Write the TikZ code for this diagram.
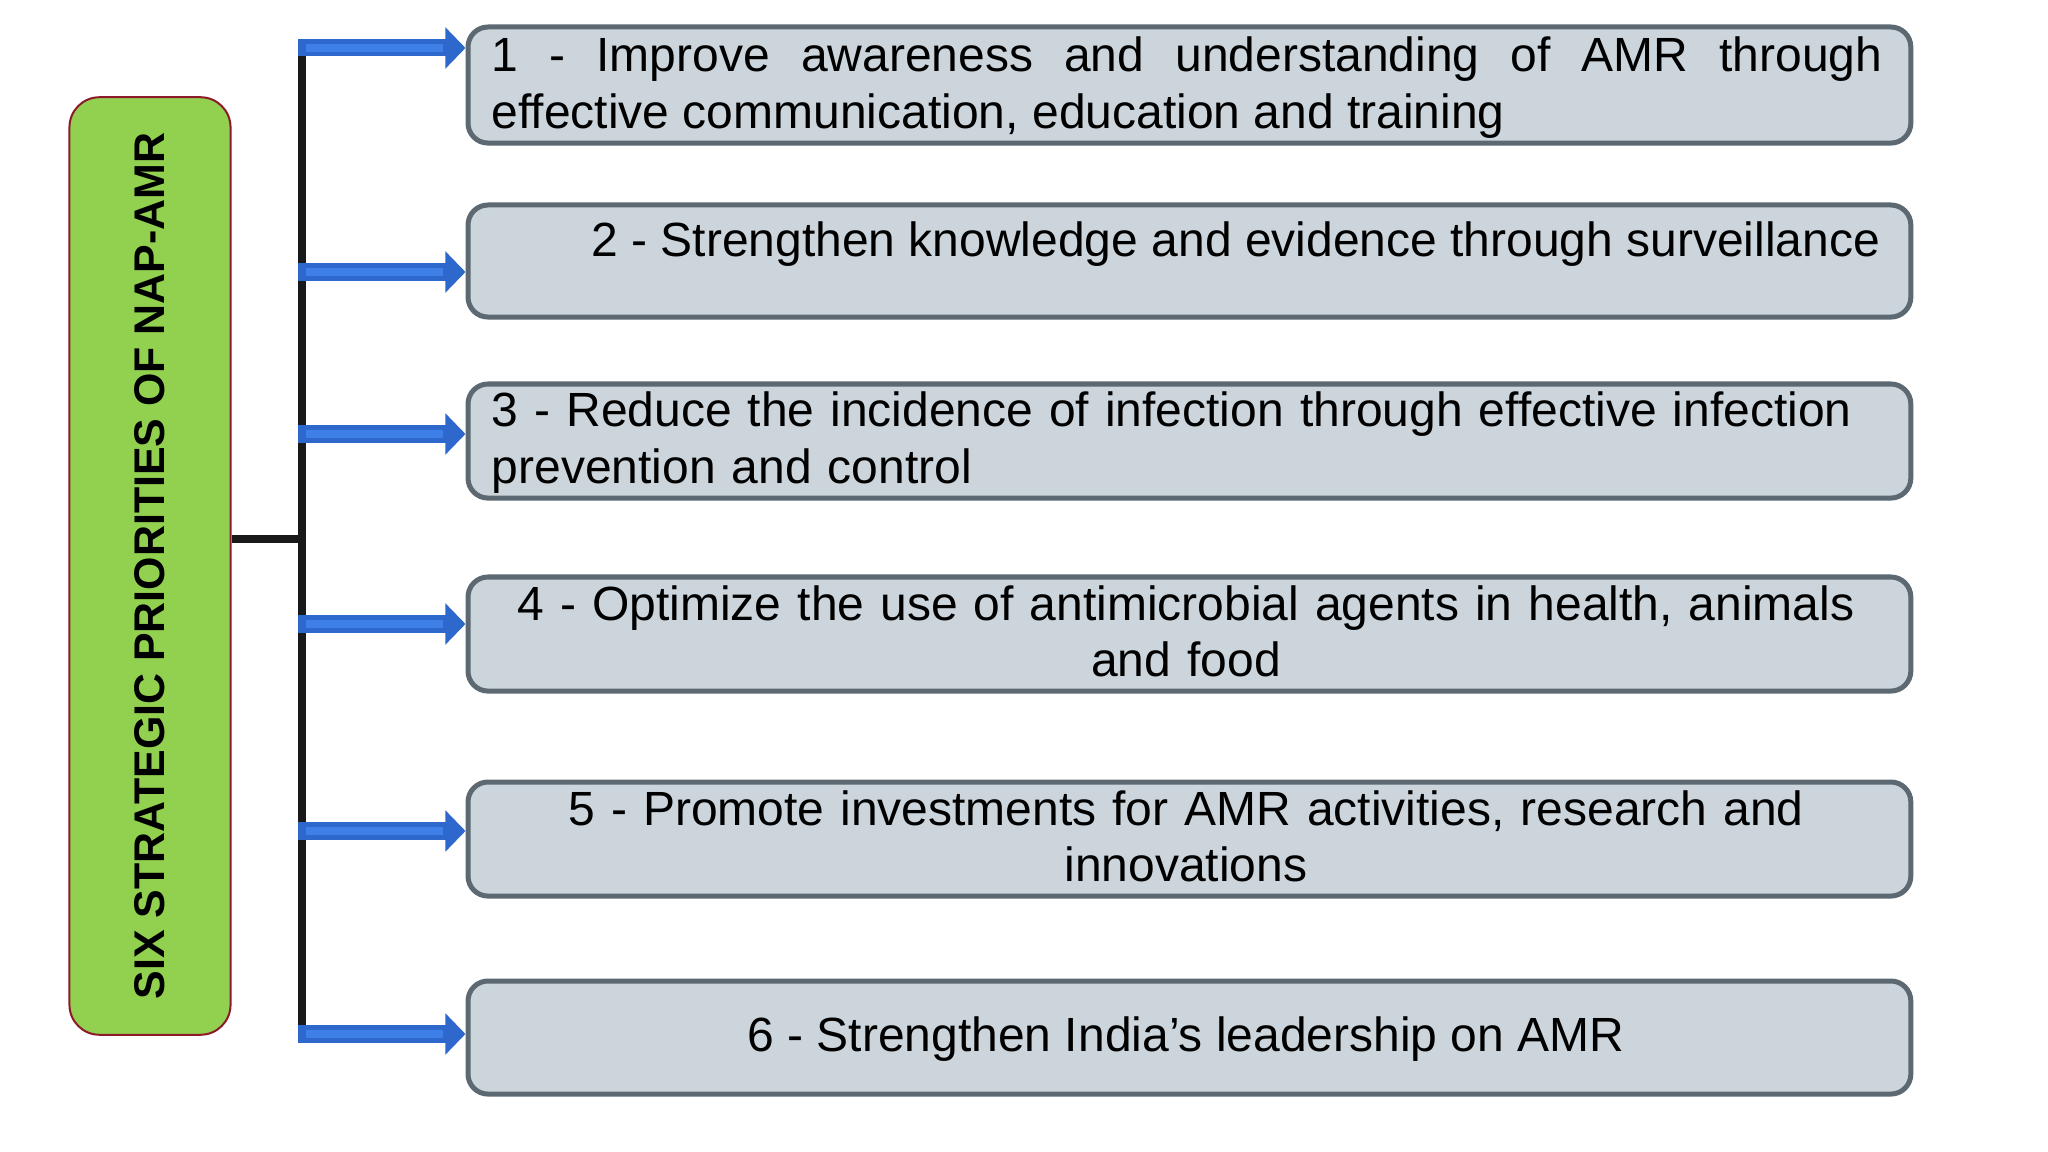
\documentclass[tikz,border=0pt]{standalone}
\usepackage{fontspec}
\setmainfont{Liberation Sans}
\usetikzlibrary{arrows.meta}
\definecolor{boxfill}{RGB}{203,213,219}
\definecolor{boxline}{RGB}{92,105,114}
\definecolor{greenfill}{RGB}{146,208,80}
\definecolor{greenline}{RGB}{140,26,43}
\definecolor{arrowblue}{RGB}{46,104,205}
\definecolor{arrowlight}{RGB}{62,128,232}
\tikzset{
  prio/.style={draw=boxline, fill=boxfill, line width=0.05cm, rounded corners=0.2cm,
    minimum width=14.42cm, inner sep=0pt, anchor=north west},
  prtext/.style={font=\fontsize{13.65pt}{16pt}\selectfont, inner sep=0pt, text=black},
  bus/.style={line width=0.08cm, black!90},
  feed/.style={line width=0.17cm, arrowblue, -{Triangle[length=0.2cm, width=0.4cm]}},
  feedin/.style={line width=0.08cm, arrowlight, shorten >=0.22cm},
}
\begin{document}
\begin{tikzpicture}[x=0.01cm,y=-0.01cm]
\useasboundingbox (0,0) rectangle (2048,1152);
\fill[white] (0,0) rectangle (2048,1152);
% title box
\node[draw=greenline, fill=greenfill, line width=0.02cm, rounded corners=0.3cm,
  minimum width=1.61cm, minimum height=9.37cm, inner sep=0pt] (title) at (150,566) {};
\node[rotate=90, font=\bfseries\fontsize{12.2pt}{15pt}\selectfont, inner sep=0pt] (titletext) at (150,566)
  {SIX STRATEGIC PRIORITIES OF NAP-AMR};
% priority boxes
\node[prio, minimum height=1.16cm] (p1) at (465.5,24.5) {};
\node[prio, minimum height=1.12cm] (p2) at (465.5,202.5) {};
\node[prio, minimum height=1.14cm] (p3) at (465.5,381.5) {};
\node[prio, minimum height=1.14cm] (p4) at (465.5,574.5) {};
\node[prio, minimum height=1.14cm] (p5) at (465.5,779.5) {};
\node[prio, minimum height=1.13cm] (p6) at (465.5,978.5) {};
% texts
\node[prtext, anchor=base west, text width=13.90cm, align=justify] (t1) at (491,72)
  {1 - Improve awareness and understanding of AMR through\linebreak effective communication, education and training};
\node[prtext, anchor=base east] (t2) at (1881,257)
  {2 - Strengthen knowledge and evidence through surveillance};
\node[prtext, anchor=base west, text width=13.90cm, align=left] (t3) at (491,427)
  {3 - Reduce the incidence of infection through effective infection\\prevention and control};
\node[prtext, anchor=base, text width=13.90cm, align=center] (t4) at (1186,620)
  {4 - Optimize the use of antimicrobial agents in health, animals\\and food};
\node[prtext, anchor=base, text width=13.90cm, align=center] (t5) at (1186,825)
  {5 - Promote investments for AMR activities, research and\\innovations};
\node[prtext, anchor=base] (t6) at (1186,1051)
  {6 - Strengthen India’s leadership on AMR};
% bus
\coordinate (bt) at (302,44);
\coordinate (bb) at (302,1038);
\coordinate (hub) at (302,539);
\draw[bus] (bt) -- (bb);
\draw[bus] (title.east |- hub) -- (hub);
% arrows
\foreach \b/\y in {p1/48, p2/272, p3/434, p4/624, p5/831, p6/1034}{
  \coordinate (s\b) at (298,\y);
  \draw[feed] (s\b) -- (\b.west |- s\b);
  \draw[feedin] (s\b) ++(8,0) -- (\b.west |- s\b);
}
\end{tikzpicture}
\end{document}
